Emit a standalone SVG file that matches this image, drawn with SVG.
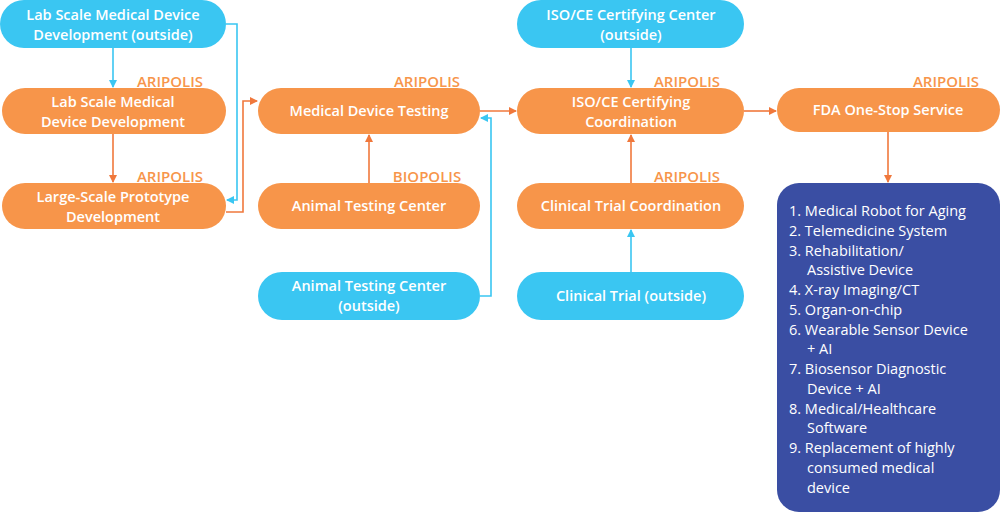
<svg xmlns="http://www.w3.org/2000/svg" width="1000" height="512" viewBox="0 0 1000 512">
<defs>
<style>
.o{fill:#f7954a}.b{fill:#3ac6f2}.t{fill:#fff;font-family:"Open Sans","Noto Sans",sans-serif;font-size:14.5px;font-weight:600;text-anchor:middle}
.lab{fill:#f7954a;font-family:"Open Sans","Noto Sans",sans-serif;font-size:15px;font-weight:600;text-anchor:middle}
.lt{fill:#fff;font-family:"Open Sans","Noto Sans",sans-serif;font-size:14.5px}
.co{stroke:#f0783c;stroke-width:1.6;fill:none;marker-end:url(#ao)}
.cb{stroke:#3ac6f2;stroke-width:1.6;fill:none;marker-end:url(#ab)}
</style>
<marker id="ao" markerWidth="8" markerHeight="8" refX="7" refY="4" orient="auto" markerUnits="userSpaceOnUse"><path d="M0,0 L8,4 L0,8z" fill="#f0783c"/></marker>
<marker id="ab" markerWidth="8" markerHeight="8" refX="7" refY="4" orient="auto" markerUnits="userSpaceOnUse"><path d="M0,0 L8,4 L0,8z" fill="#3ac6f2"/></marker>
</defs>
<rect width="1000" height="512" fill="#fff"/>
<g id="connectors">
<path class="cb" d="M113,48 V87"/>
<path class="cb" d="M226,24 H237 V200 H227"/>
<path class="co" d="M113,134 V182"/>
<path class="co" d="M226,212 H243 V101 H257"/>
<path class="co" d="M369,183 V135"/>
<path class="cb" d="M480,296 H491 V118 H481"/>
<path class="co" d="M480,111 H516"/>
<path class="cb" d="M631,48 V87"/>
<path class="co" d="M631,183 V135"/>
<path class="cb" d="M631,272 V230"/>
<path class="co" d="M744,111 H776"/>
<path class="co" d="M888,132 V182"/>
</g>
<g id="labels">
<text class="lab" x="170" y="87">ARIPOLIS</text>
<text class="lab" x="170" y="182">ARIPOLIS</text>
<text class="lab" x="427" y="87">ARIPOLIS</text>
<text class="lab" x="427" y="182">BIOPOLIS</text>
<text class="lab" x="687" y="87">ARIPOLIS</text>
<text class="lab" x="687" y="182">ARIPOLIS</text>
<text class="lab" x="946" y="87">ARIPOLIS</text>
</g>
<g id="nA"><rect class="b" x="0" y="0" width="226" height="48" rx="24"/><text class="t" x="113" y="20">Lab Scale Medical Device</text><text class="t" x="113" y="40">Development (outside)</text></g>
<g id="nB"><rect class="o" x="2" y="88" width="224" height="46" rx="23"/><text class="t" x="113" y="107">Lab Scale Medical</text><text class="t" x="113" y="127">Device Development</text></g>
<g id="nC"><rect class="o" x="2" y="183" width="224" height="46" rx="23"/><text class="t" x="113" y="202">Large-Scale Prototype</text><text class="t" x="113" y="222">Development</text></g>
<g id="nD"><rect class="o" x="258" y="88" width="222" height="46" rx="23"/><text class="t" x="369" y="116">Medical Device Testing</text></g>
<g id="nE"><rect class="o" x="258" y="183" width="222" height="46" rx="23"/><text class="t" x="369" y="211">Animal Testing Center</text></g>
<g id="nF"><rect class="b" x="258" y="272" width="222" height="48" rx="24"/><text class="t" x="369" y="291">Animal Testing Center</text><text class="t" x="369" y="311">(outside)</text></g>
<g id="nG"><rect class="b" x="517" y="0" width="227" height="48" rx="24"/><text class="t" x="631" y="20">ISO/CE Certifying Center</text><text class="t" x="631" y="40">(outside)</text></g>
<g id="nH"><rect class="o" x="517" y="88" width="227" height="46" rx="23"/><text class="t" x="631" y="107">ISO/CE Certifying</text><text class="t" x="631" y="127">Coordination</text></g>
<g id="nI"><rect class="o" x="517" y="183" width="227" height="46" rx="23"/><text class="t" x="631" y="211">Clinical Trial Coordination</text></g>
<g id="nJ"><rect class="b" x="517" y="272" width="227" height="48" rx="24"/><text class="t" x="631" y="301">Clinical Trial (outside)</text></g>
<g id="nK"><rect class="o" x="777" y="88" width="223" height="44" rx="22"/><text class="t" x="888" y="115">FDA One-Stop Service</text></g>
<g id="nL"><rect fill="#3a4ea3" x="777" y="183" width="223" height="329" rx="22"/>
<text class="lt" x="789" y="216">1. Medical Robot for Aging</text>
<text class="lt" x="789" y="236">2. Telemedicine System</text>
<text class="lt" x="789" y="256">3. Rehabilitation/</text>
<text class="lt" x="807" y="275">Assistive Device</text>
<text class="lt" x="789" y="295">4. X-ray Imaging/CT</text>
<text class="lt" x="789" y="315">5. Organ-on-chip</text>
<text class="lt" x="789" y="335">6. Wearable Sensor Device</text>
<text class="lt" x="807" y="354">+ AI</text>
<text class="lt" x="789" y="374">7. Biosensor Diagnostic</text>
<text class="lt" x="807" y="394">Device + AI</text>
<text class="lt" x="789" y="414">8. Medical/Healthcare</text>
<text class="lt" x="807" y="433">Software</text>
<text class="lt" x="789" y="453">9. Replacement of highly</text>
<text class="lt" x="807" y="473">consumed medical</text>
<text class="lt" x="807" y="493">device</text>
</g>
</svg>
